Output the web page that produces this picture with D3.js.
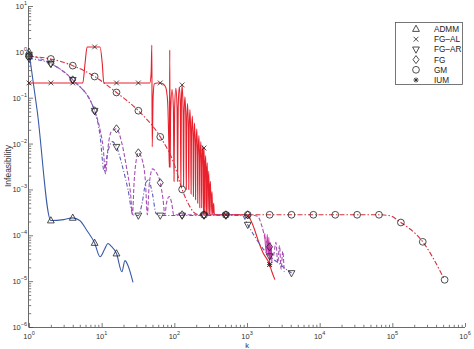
<!DOCTYPE html>
<html>
<head>
<meta charset="utf-8">
<script src="https://cdn.jsdelivr.net/npm/d3@7"></script>
<style>
body { margin: 0; background: #fff; }
svg { font-family: "Liberation Sans", Arial, sans-serif; }
</style>
</head>
<body>
<svg id="chart" width="474" height="349"></svg>
<script>
// [k, infeasibility]
const admm = [[1,1.0],[1.3,0.05],[2,2.1e-4],[3,2.2e-4],[4,2.4e-4],[5,2.1e-4],[6.2,1.3e-4],[8,6.8e-5],[9.5,3.4e-5],[11,5e-5],[12.2,6.6e-5],[13.5,5.8e-5],[16,4e-5],[19,1.6e-5],[20.9,2.8e-5],[23,2.2e-5],[27,9.4e-6]];

const fgal = [[1,0.21],[2,0.21],[4,0.21],[5.5,0.21],[5.9,0.55],[6.3,1.28],[8,1.28],[9.5,1.28],[10.2,0.55],[10.7,0.21],[16,0.21],[32,0.21],[46,0.21],[48,0.35],[49,1.4],[49.6,0.0085],[51,0.1],[53,0.2],[58,0.21],
  [64,0.21],[70,0.2],[76,0.17],[81,0.08],[84,0.01],[85.5,0.003],[86.5,1.1],[87.5,0.003],[89,0.05],[93,0.15],[97,0.06],[99,0.0015],[101,0.06],[105,0.16],[109,0.06],[111,0.0015],[113,0.06],[117,0.17],[121,0.07],[123,0.0012],[125,0.08],
  [128,0.19],[132,0.05],[134,0.0012],[136,0.04],[140,0.105],[144,0.03],[146,0.001],[148,0.025],[152,0.075],[156,0.02],[158,0.001],[160,0.018],[164,0.055],[168,0.015],[170,0.0008],[172,0.013],[177,0.04],[181,0.01],[183,0.0007],[185,0.01],
  [190,0.028],[194,0.007],[196,0.0006],[198,0.007],[204,0.021],[208,0.005],[210,0.0005],[212,0.005],[218,0.015],[222,0.004],[224,0.0004],[226,0.004],[232,0.011],[236,0.003],[238,0.0004],[240,0.003],[247,0.009],[250,0.003],[252,0.0003],[254,0.003],
  [256,0.008],[260,0.002],[262,0.0003],[264,0.002],[270,0.0055],[274,0.0015],[276,0.0003],[278,0.0015],[284,0.0038],[288,0.001],[290,0.00028],[292,0.001],[298,0.0025],[302,0.0008],[304,0.00028],[306,0.0008],[314,0.0015],[318,0.0005],[320,0.00028],[323,0.0005],
  [330,0.0009],[335,0.00035],[338,0.00028],[342,0.00035],[348,0.0005],[354,0.0003],[362,0.00028],[512,0.00028],[900,0.00028],[1024,0.00026],[1100,2.3e-4],[1244,1.46e-4],[1413,8e-5],[1655,4.2e-5],[2048,2.3e-5],[2200,1.6e-5],[2420,1.08e-5]];

const fgar = [[1,0.72],[2,0.55],[4,0.245],[8,0.052],[9.5,0.015],[10.8,2.5e-3],[12,6e-3],[14,0.011],[16,8.5e-3],[19,3.5e-3],[23,1e-3],[27,2.8e-4],[32,2.7e-4],[36,5e-4],[40,1.3e-3],[44,1.6e-3],[50,8e-4],[56,3e-4],[64,2.7e-4],[128,2.7e-4],[256,2.7e-4],[512,2.7e-4],[850,2.7e-4],[1024,1.7e-4],[1300,9e-5],[1600,5.5e-5],[2048,3.5e-5],[2600,2.6e-5],[3200,2e-5],[4096,1.5e-5]];

const fg = [[1,0.85],[2,0.56],[4,0.245],[8,0.052],[9.5,0.02],[10.5,0.008],[11.3,2.2e-3],[12.2,0.008],[13.5,0.018],[16,0.021],[19,0.01],[22,3e-3],[25,8e-4],[26.5,2.8e-4],[28,1.5e-3],[30,4.5e-3],[32,6.3e-3],[36,4.5e-3],[40,1.5e-3],[42.5,2.8e-4],[45,1.2e-3],[50,2.8e-3],[56,2.4e-3],[64,1.4e-3],[70,6e-4],[74,2.8e-4],[78,5e-4],[85,7e-4],[92,5e-4],[98,2.8e-4],[128,2.8e-4],[256,2.8e-4],[512,2.8e-4],[1024,2.8e-4],[1400,2.6e-4],[1600,1.6e-4],[1800,8e-5],[2048,5.6e-5],[2300,3.5e-5],[2500,7e-5],[2650,2.5e-5],[2800,6e-5],[2950,1.8e-5],[3100,4.5e-5],[3250,1.6e-5]];

const gm = [[1,0.8],[2,0.7],[4,0.5],[8,0.29],[16,0.13],[32,0.052],[64,0.014],[100,3.5e-3],[128,1e-3],[160,4.5e-4],[200,2.9e-4],[256,2.8e-4],[512,2.8e-4],[1024,2.8e-4],[2048,2.8e-4],[4096,2.8e-4],[8192,2.8e-4],[16384,2.8e-4],[32768,2.8e-4],[65536,2.8e-4],[90000,2.7e-4],[131072,1.9e-4],[262144,7.2e-5],[524288,1.07e-5]];

const ium = [[1750,1.1e-4],[1850,4e-5],[1900,1.05e-4],[1950,3.5e-5],[2000,9e-5],[2048,2.3e-5],[2080,7e-5],[2120,3e-5],[2160,6e-5],[2200,2.5e-5]];

const names = ["ADMM","FG\u2013AL","FG\u2013AR","FG","GM","IUM"];
const xTicks = [1,10,100,1e3,1e4,1e5,1e6];
const yTicks = [1e-6,1e-5,1e-4,1e-3,1e-2,1e-1,1,10];

const series = [
  {name: names[0], data: admm, color: "#3a5aa8", dash: null,        marker: "triUp"},
  {name: names[1], data: fgal, color: "#e8212c", dash: null,        marker: "cross"},
  {name: names[2], data: fgar, color: "#5a5cb4", dash: "4,2,1,2",   marker: "triDown"},
  {name: names[3], data: fg,   color: "#a64fb6", dash: "4,2",       marker: "diamond"},
  {name: names[4], data: gm,   color: "#d8303f", dash: "5,2,1.5,2", marker: "circle"},
  {name: names[5], data: ium,  color: "#c43cae", dash: null,        marker: "star"}
];

const svg = d3.select("#chart");
const x = d3.scaleLog().domain([1, 1e6]).range([29, 465]);
const y = d3.scaleLog().domain([1e-6, 10]).range([327, 6]);

const minors = (ticks) => {
  const out = [];
  ticks.slice(0, -1).forEach(t => { for (let m = 2; m < 10; m++) out.push(t * m); });
  return out;
};

// axes: ticks point into the plot, no box
const gx = svg.append("g").attr("transform", "translate(0,327)");
gx.call(d3.axisBottom(x).tickValues(minors(xTicks)).tickSize(-2.2).tickFormat(""));
gx.call(g => g.append("g").call(d3.axisBottom(x).tickValues(xTicks).tickSize(-4).tickFormat("")));
const gy = svg.append("g").attr("transform", "translate(29,0)");
gy.call(d3.axisLeft(y).tickValues(minors(yTicks)).tickSize(-2.2).tickFormat(""));
gy.call(g => g.append("g").call(d3.axisLeft(y).tickValues(yTicks).tickSize(-4).tickFormat("")));
svg.selectAll(".tick line").attr("stroke", "#444").attr("stroke-width", 0.7);
svg.selectAll(".domain").remove();
svg.append("line").attr("x1", 29).attr("x2", 465).attr("y1", 327.5).attr("y2", 327.5).attr("stroke", "#444").attr("stroke-width", 0.8);
svg.append("line").attr("x1", 28.5).attr("x2", 28.5).attr("y1", 6).attr("y2", 327.5).attr("stroke", "#444").attr("stroke-width", 0.8);

const pow = (g, base, e) => {
  g.append("tspan").text(base);
  g.append("tspan").attr("font-size", 5.5).attr("dy", -4).text(e);
};
xTicks.forEach(t => {
  const tx = svg.append("text").attr("x", x(t)).attr("y", 339).attr("font-size", 7.5)
    .attr("fill", "#333").attr("text-anchor", "middle");
  pow(tx, "10", String(Math.round(Math.log10(t))));
});
yTicks.forEach(t => {
  const ty = svg.append("text").attr("x", 27).attr("y", y(t) + 3).attr("font-size", 7.5)
    .attr("fill", "#333").attr("text-anchor", "end");
  pow(ty, "10", String(Math.round(Math.log10(t))).replace("-", "\u2212") + " ");
});

svg.append("text").attr("x", 247).attr("y", 348).attr("font-size", 7.5).attr("fill", "#333")
  .attr("text-anchor", "middle").text("k");
svg.append("text").attr("transform", "translate(11,166) rotate(-90)").attr("font-size", 8.5)
  .attr("fill", "#333").attr("text-anchor", "middle").text("Infeasibility");

const line = d3.line().x(d => x(d[0])).y(d => y(d[1])).curve(d3.curveMonotoneX);

const drawMarker = (g, type, cx, cy) => {
  const s = g.append("path").attr("fill", "none").attr("stroke", "#222").attr("stroke-width", 0.8);
  if (type === "circle") s.attr("d", d3.symbol(d3.symbolCircle, 36)());
  if (type === "triUp") s.attr("d", "M0,-3.8L3.4,2.4L-3.4,2.4Z");
  if (type === "triDown") s.attr("d", "M0,3.8L3.4,-2.4L-3.4,-2.4Z");
  if (type === "diamond") s.attr("d", "M0,-4L3,0L0,4L-3,0Z");
  if (type === "cross") s.attr("d", "M-2.4,-2.4L2.4,2.4M-2.4,2.4L2.4,-2.4");
  if (type === "star") s.attr("d", "M-2.6,0H2.6M0,-2.6V2.6M-1.9,-1.9L1.9,1.9M-1.9,1.9L1.9,-1.9");
  s.attr("transform", `translate(${cx},${cy})`);
};

const isPow2 = k => Number.isInteger(Math.log2(k));

const plot = svg.append("g");
series.forEach(s => {
  plot.append("path").datum(s.data).attr("d", line).attr("fill", "none")
    .attr("stroke", s.color).attr("stroke-width", 1.1)
    .attr("stroke-dasharray", s.dash);
});
series.forEach(s => {
  s.data.filter(d => isPow2(d[0])).forEach(d => drawMarker(plot, s.marker, x(d[0]), y(d[1])));
});

// legend
const lg = svg.append("g");
lg.append("rect").attr("x", 395.5).attr("y", 22.5).attr("width", 67).attr("height", 62)
  .attr("fill", "#fff").attr("stroke", "#555").attr("stroke-width", 0.8);
series.forEach((s, i) => {
  const ly = 29 + i * 10.2;
  drawMarker(lg, s.marker, 416, ly);
  lg.append("text").attr("x", 434).attr("y", ly + 3).attr("font-size", 8.2).attr("fill", "#222").text(s.name);
});
</script>
</body>
</html>
